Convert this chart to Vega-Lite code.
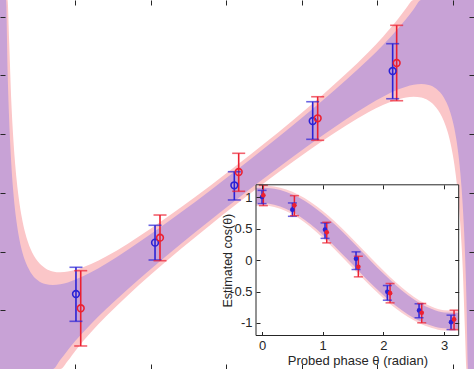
{
  "$schema": "https://vega.github.io/schema/vega-lite/v6.json",
  "width": 474,
  "height": 369,
  "autosize": "none",
  "padding": 0,
  "background": "white",
  "config": {
    "view": {"stroke": null},
    "axis": {
      "grid": false,
      "domain": false,
      "zindex": 1,
      "tickColor": "#262626",
      "tickWidth": 1,
      "labelFont": "Liberation Sans",
      "titleFont": "Liberation Sans",
      "labelColor": "#262626",
      "titleColor": "#262626",
      "titleFontWeight": "normal",
      "labelFontSize": 13,
      "titleFontSize": 13
    }
  },
  "datasets": {
    "band": [
      {"x": 0, "plo": -20, "phi": 20, "klo": -20, "khi": 20},
      {"x": 0.02, "plo": -24.98, "phi": 25.02, "klo": -32.98, "khi": 33.02},
      {"x": 0.04, "plo": -12.46, "phi": 12.54, "klo": -16.46, "khi": 16.54},
      {"x": 0.06, "plo": -8.27, "phi": 8.39, "klo": -10.94, "khi": 11.06},
      {"x": 0.08, "plo": -6.17, "phi": 6.33, "klo": -8.17, "khi": 8.33},
      {"x": 0.1, "plo": -4.9, "phi": 5.1, "klo": -6.5, "khi": 6.7},
      {"x": 0.12, "plo": -4.049, "phi": 4.289, "klo": -5.383, "khi": 5.623},
      {"x": 0.15, "plo": -3.186, "phi": 3.486, "klo": -4.254, "khi": 4.554},
      {"x": 0.18, "plo": -2.601, "phi": 2.961, "klo": -3.492, "khi": 3.852},
      {"x": 0.22, "plo": -2.057, "phi": 2.497, "klo": -2.786, "khi": 3.226},
      {"x": 0.26, "plo": -1.669, "phi": 2.189, "klo": -2.286, "khi": 2.806},
      {"x": 0.3, "plo": -1.373, "phi": 1.973, "klo": -1.908, "khi": 2.508},
      {"x": 0.35, "plo": -1.086, "phi": 1.786, "klo": -1.545, "khi": 2.245},
      {"x": 0.4, "plo": -0.858, "phi": 1.658, "klo": -1.261, "khi": 2.061},
      {"x": 0.5, "plo": -0.511, "phi": 1.511, "klo": -0.834, "khi": 1.834},
      {"x": 0.6, "plo": -0.246, "phi": 1.446, "klo": -0.517, "khi": 1.717},
      {"x": 0.7, "plo": -0.029, "phi": 1.429, "klo": -0.262, "khi": 1.662},
      {"x": 0.8, "plo": 0.158, "phi": 1.442, "klo": -0.047, "khi": 1.647},
      {"x": 0.9, "plo": 0.325, "phi": 1.475, "klo": 0.141, "khi": 1.659},
      {"x": 1.0, "plo": 0.479, "phi": 1.522, "klo": 0.312, "khi": 1.688},
      {"x": 1.2, "plo": 0.757, "phi": 1.643, "klo": 0.616, "khi": 1.784},
      {"x": 1.4, "plo": 1.012, "phi": 1.788, "klo": 0.888, "khi": 1.912},
      {"x": 1.7, "plo": 1.367, "phi": 2.033, "klo": 1.261, "khi": 2.139},
      {"x": 2.0, "plo": 1.703, "phi": 2.297, "klo": 1.608, "khi": 2.392},
      {"x": 2.4, "plo": 2.132, "phi": 2.668, "klo": 2.046, "khi": 2.754},
      {"x": 2.8, "plo": 2.546, "phi": 3.054, "klo": 2.465, "khi": 3.135},
      {"x": 3.1416, "plo": 2.892, "phi": 3.392, "klo": 2.812, "khi": 3.472},
      {"x": 3.4832, "plo": 3.23, "phi": 3.737, "klo": 3.148, "khi": 3.818},
      {"x": 3.8832, "plo": 3.615, "phi": 4.151, "klo": 3.529, "khi": 4.237},
      {"x": 4.2832, "plo": 3.986, "phi": 4.58, "klo": 3.891, "khi": 4.675},
      {"x": 4.5832, "plo": 4.25, "phi": 4.916, "klo": 4.144, "khi": 5.022},
      {"x": 4.8832, "plo": 4.495, "phi": 5.271, "klo": 4.371, "khi": 5.395},
      {"x": 5.0832, "plo": 4.64, "phi": 5.526, "klo": 4.499, "khi": 5.668},
      {"x": 5.2832, "plo": 4.762, "phi": 5.805, "klo": 4.595, "khi": 5.972},
      {"x": 5.3832, "plo": 4.808, "phi": 5.958, "klo": 4.625, "khi": 6.142},
      {"x": 5.4832, "plo": 4.841, "phi": 6.125, "klo": 4.636, "khi": 6.331},
      {"x": 5.5832, "plo": 4.854, "phi": 6.312, "klo": 4.621, "khi": 6.546},
      {"x": 5.6832, "plo": 4.837, "phi": 6.529, "klo": 4.567, "khi": 6.8},
      {"x": 5.7832, "plo": 4.773, "phi": 6.794, "klo": 4.449, "khi": 7.117},
      {"x": 5.8832, "plo": 4.625, "phi": 7.141, "klo": 4.222, "khi": 7.544},
      {"x": 5.9332, "plo": 4.497, "phi": 7.369, "klo": 4.038, "khi": 7.828},
      {"x": 5.9832, "plo": 4.31, "phi": 7.656, "klo": 3.775, "khi": 8.191},
      {"x": 6.0232, "plo": 4.094, "phi": 7.952, "klo": 3.477, "khi": 8.569},
      {"x": 6.0632, "plo": 3.786, "phi": 8.34, "klo": 3.057, "khi": 9.069},
      {"x": 6.1032, "plo": 3.322, "phi": 8.884, "klo": 2.431, "khi": 9.775},
      {"x": 6.1332, "plo": 2.797, "phi": 9.469, "klo": 1.729, "khi": 10.537},
      {"x": 6.1632, "plo": 1.994, "phi": 10.332, "klo": 0.66, "khi": 11.666},
      {"x": 6.1832, "plo": 1.18, "phi": 11.18, "klo": -0.417, "khi": 12.78},
      {"x": 6.2032, "plo": -0.047, "phi": 12.45, "klo": -2.05, "khi": 14.45},
      {"x": 6.2232, "plo": -2.05, "phi": 14.55, "klo": -4.66, "khi": 17.22},
      {"x": 6.2432, "plo": -6.18, "phi": 18.74, "klo": -10.18, "khi": 22.74},
      {"x": 6.2632, "plo": -18.7, "phi": 31.26, "klo": -26.7, "khi": 39.26},
      {"x": 6.2832, "plo": -20, "phi": 20, "klo": -20, "khi": 20}
    ],
    "mainpts": [
      {"s": "blue", "x": 1.007, "y": 1.277, "lo": 0.812, "hi": 1.732},
      {"s": "blue", "x": 2.055, "y": 2.151, "lo": 1.856, "hi": 2.447},
      {"s": "blue", "x": 3.106, "y": 3.128, "lo": 2.878, "hi": 3.359},
      {"s": "blue", "x": 4.145, "y": 4.223, "lo": 3.911, "hi": 4.551},
      {"s": "blue", "x": 5.205, "y": 5.074, "lo": 4.602, "hi": 5.539},
      {"s": "red", "x": 1.07, "y": 1.034, "lo": 0.392, "hi": 1.674},
      {"s": "red", "x": 2.121, "y": 2.236, "lo": 1.844, "hi": 2.622},
      {"s": "red", "x": 3.164, "y": 3.354, "lo": 3.026, "hi": 3.673},
      {"s": "red", "x": 4.211, "y": 4.269, "lo": 3.894, "hi": 4.636},
      {"s": "red", "x": 5.258, "y": 5.21, "lo": 4.568, "hi": 5.852}
    ],
    "insetband": [
      {"t": -0.1, "plo": 0.899, "phi": 1.151, "klo": 0.864, "khi": 1.186},
      {"t": 0, "plo": 0.905, "phi": 1.155, "klo": 0.87, "khi": 1.19},
      {"t": 0.2, "plo": 0.8825, "phi": 1.1377, "klo": 0.8467, "khi": 1.1735},
      {"t": 0.4, "plo": 0.8163, "phi": 1.0859, "klo": 0.7786, "khi": 1.1236},
      {"t": 0.6, "plo": 0.7105, "phi": 1.0001, "klo": 0.6699, "khi": 1.0407},
      {"t": 0.8, "plo": 0.5709, "phi": 0.8825, "klo": 0.5273, "khi": 0.9261},
      {"t": 1.0, "plo": 0.4044, "phi": 0.7362, "klo": 0.358, "khi": 0.7826},
      {"t": 1.2, "plo": 0.2186, "phi": 0.5662, "klo": 0.1699, "khi": 0.6149},
      {"t": 1.4, "plo": 0.0213, "phi": 0.3787, "klo": -0.0287, "khi": 0.4287},
      {"t": 1.6, "plo": -0.1792, "phi": 0.1808, "klo": -0.2296, "khi": 0.2312},
      {"t": 1.8, "plo": -0.3748, "phi": -0.0196, "klo": -0.4246, "khi": 0.0302},
      {"t": 2.0, "plo": -0.5579, "phi": -0.2143, "klo": -0.606, "khi": -0.1662},
      {"t": 2.2, "plo": -0.7216, "phi": -0.3954, "klo": -0.7673, "khi": -0.3497},
      {"t": 2.4, "plo": -0.86, "phi": -0.5548, "klo": -0.9027, "khi": -0.5121},
      {"t": 2.6, "plo": -0.9686, "phi": -0.6852, "klo": -1.0083, "khi": -0.6455},
      {"t": 2.8, "plo": -1.0445, "phi": -0.7799, "klo": -1.0816, "khi": -0.7428},
      {"t": 3.0, "plo": -1.0863, "phi": -0.8337, "klo": -1.1217, "khi": -0.7983},
      {"t": 3.2416, "plo": -1.0907, "phi": -0.8393, "klo": -1.1259, "khi": -0.8041}
    ],
    "insetpts": [
      {"s": "blue", "t": 0.0, "y": 1.006, "lo": 0.9, "hi": 1.111},
      {"s": "blue", "t": 0.5, "y": 0.804, "lo": 0.698, "hi": 0.911},
      {"s": "blue", "t": 1.038, "y": 0.486, "lo": 0.347, "hi": 0.593},
      {"s": "blue", "t": 1.549, "y": 0.021, "lo": -0.149, "hi": 0.132},
      {"s": "blue", "t": 2.065, "y": -0.504, "lo": -0.638, "hi": -0.404},
      {"s": "blue", "t": 2.588, "y": -0.801, "lo": -0.917, "hi": -0.695},
      {"s": "blue", "t": 3.115, "y": -0.987, "lo": -1.105, "hi": -0.876},
      {"s": "red", "t": 0.021, "y": 1.032, "lo": 0.868, "hi": 1.191},
      {"s": "red", "t": 0.533, "y": 0.873, "lo": 0.709, "hi": 1.027},
      {"s": "red", "t": 1.066, "y": 0.444, "lo": 0.275, "hi": 0.603},
      {"s": "red", "t": 1.587, "y": -0.107, "lo": -0.266, "hi": 0.062},
      {"s": "red", "t": 2.11, "y": -0.526, "lo": -0.68, "hi": -0.372},
      {"s": "red", "t": 2.632, "y": -0.838, "lo": -0.998, "hi": -0.69},
      {"s": "red", "t": 3.165, "y": -0.944, "lo": -1.105, "hi": -0.797}
    ],
    "frame": [{"x0": -0.1, "x1": 3.2416, "y0": -1.2, "y1": 1.2}],
    "dummy": [{"x": 1, "y": 1}]
  },
  "layer": [
    {
      "layer": [
        {
          "data": {"name": "band"},
          "mark": {"type": "area", "color": "#FBC6C8", "interpolate": "monotone", "opacity": 1},
          "encoding": {
            "x": {"field": "x", "type": "quantitative",
                  "scale": {"domain": [0, 6.2832], "nice": false, "zero": false},
                  "axis": {"orient": "bottom", "values": [1, 2, 3, 4, 5, 6], "labels": false, "tickSize": -5, "title": null, "zindex": 2}},
            "y": {"field": "klo", "type": "quantitative",
                  "scale": {"domain": [0, 6.2832], "nice": false, "zero": false, "clamp": true},
                  "axis": {"orient": "left", "values": [1, 2, 3, 4, 5, 6], "labels": false, "tickSize": -5, "title": null, "zindex": 2}},
            "y2": {"field": "khi"}
          }
        },
        {
          "data": {"name": "band"},
          "mark": {"type": "area", "color": "#C8A2D6", "interpolate": "monotone", "opacity": 1},
          "encoding": {
            "x": {"field": "x", "type": "quantitative"},
            "y": {"field": "plo", "type": "quantitative"},
            "y2": {"field": "phi"}
          }
        },
        {
          "data": {"name": "mainpts"},
          "mark": {"type": "rule", "strokeWidth": 1.6},
          "encoding": {
            "x": {"field": "x", "type": "quantitative"},
            "y": {"field": "lo", "type": "quantitative"},
            "y2": {"field": "hi"},
            "color": {"field": "s", "type": "nominal", "scale": {"domain": ["blue", "red"], "range": ["#2A22D6", "#EC2030"]}, "legend": null}
          }
        },
        {
          "data": {"name": "mainpts"},
          "mark": {"type": "tick", "orient": "horizontal", "size": 13, "thickness": 1.6},
          "encoding": {
            "x": {"field": "x", "type": "quantitative"},
            "y": {"field": "lo", "type": "quantitative"},
            "color": {"field": "s", "type": "nominal", "legend": null}
          }
        },
        {
          "data": {"name": "mainpts"},
          "mark": {"type": "tick", "orient": "horizontal", "size": 13, "thickness": 1.6},
          "encoding": {
            "x": {"field": "x", "type": "quantitative"},
            "y": {"field": "hi", "type": "quantitative"},
            "color": {"field": "s", "type": "nominal", "legend": null}
          }
        },
        {
          "data": {"name": "mainpts"},
          "mark": {"type": "point", "shape": "circle", "filled": false, "size": 45, "strokeWidth": 1.6, "opacity": 1},
          "encoding": {
            "x": {"field": "x", "type": "quantitative"},
            "y": {"field": "y", "type": "quantitative"},
            "color": {"field": "s", "type": "nominal", "legend": null}
          }
        }
      ]
    },
    {
      "data": {"name": "dummy"},
      "mark": {"type": "point", "opacity": 0},
      "encoding": {
        "x": {"field": "x", "type": "quantitative",
              "scale": {"domain": [0, 6.2832], "nice": false, "zero": false},
              "axis": {"orient": "top", "values": [1, 2, 3, 4, 5, 6], "labels": false, "tickSize": -5, "title": null, "zindex": 2}},
        "y": {"field": "y", "type": "quantitative",
              "scale": {"domain": [0, 6.2832], "nice": false, "zero": false},
              "axis": {"orient": "right", "values": [1, 2, 3, 4, 5, 6], "labels": false, "tickSize": -5, "title": null, "zindex": 2}}
      }
    },
    {
      "layer": [
        {
          "data": {"name": "frame"},
          "mark": {"type": "rect", "fill": "white", "stroke": null},
          "encoding": {
            "x": {"field": "x0", "type": "quantitative",
                  "scale": {"domain": [-0.1, 3.2416], "range": [256, 458.7], "nice": false, "zero": false},
                  "axis": {"orient": "bottom", "offset": -33.5, "values": [0, 1, 2, 3], "labelExpr": "'' + datum.value", "tickSize": -4, "labelPadding": 8, "title": "Probed phase θ (radian)", "titlePadding": 2, "zindex": 3}},
            "x2": {"field": "x1"},
            "y": {"field": "y0", "type": "quantitative",
                  "scale": {"domain": [-1.2, 1.2], "range": [335.5, 184.8], "nice": false, "zero": false},
                  "axis": {"orient": "left", "offset": -256, "values": [-1, -0.5, 0, 0.5, 1], "labelExpr": "'' + datum.value", "tickSize": -4, "labelPadding": 8, "title": "Estimated cos(θ)", "titleFontSize": 12.5, "titlePadding": -5, "zindex": 3}},
            "y2": {"field": "y1"}
          }
        },
        {
          "data": {"name": "insetband"},
          "mark": {"type": "area", "color": "#FBCFD3", "interpolate": "monotone", "opacity": 1},
          "encoding": {
            "x": {"field": "t", "type": "quantitative"},
            "y": {"field": "klo", "type": "quantitative"},
            "y2": {"field": "khi"}
          }
        },
        {
          "data": {"name": "insetband"},
          "mark": {"type": "area", "color": "#C8A2D6", "interpolate": "monotone", "opacity": 1},
          "encoding": {
            "x": {"field": "t", "type": "quantitative"},
            "y": {"field": "plo", "type": "quantitative"},
            "y2": {"field": "phi"}
          }
        },
        {
          "data": {"name": "insetpts"},
          "mark": {"type": "rule", "strokeWidth": 1.5},
          "encoding": {
            "x": {"field": "t", "type": "quantitative"},
            "y": {"field": "lo", "type": "quantitative"},
            "y2": {"field": "hi"},
            "color": {"field": "s", "type": "nominal", "legend": null}
          }
        },
        {
          "data": {"name": "insetpts"},
          "mark": {"type": "tick", "orient": "horizontal", "size": 9, "thickness": 1.5},
          "encoding": {
            "x": {"field": "t", "type": "quantitative"},
            "y": {"field": "lo", "type": "quantitative"},
            "color": {"field": "s", "type": "nominal", "legend": null}
          }
        },
        {
          "data": {"name": "insetpts"},
          "mark": {"type": "tick", "orient": "horizontal", "size": 9, "thickness": 1.5},
          "encoding": {
            "x": {"field": "t", "type": "quantitative"},
            "y": {"field": "hi", "type": "quantitative"},
            "color": {"field": "s", "type": "nominal", "legend": null}
          }
        },
        {
          "data": {"name": "insetpts"},
          "mark": {"type": "point", "shape": "circle", "filled": true, "size": 22, "opacity": 1},
          "encoding": {
            "x": {"field": "t", "type": "quantitative"},
            "y": {"field": "y", "type": "quantitative"},
            "color": {"field": "s", "type": "nominal", "legend": null}
          }
        },
        {
          "data": {"name": "frame"},
          "mark": {"type": "rect", "fill": null, "stroke": "#262626", "strokeWidth": 1},
          "encoding": {
            "x": {"field": "x0", "type": "quantitative"},
            "x2": {"field": "x1"},
            "y": {"field": "y0", "type": "quantitative"},
            "y2": {"field": "y1"}
          }
        }
      ]
    },
    {
      "data": {"name": "dummy"},
      "mark": {"type": "point", "opacity": 0},
      "encoding": {
        "x": {"field": "x", "type": "quantitative",
              "scale": {"domain": [-0.1, 3.2416], "range": [256, 458.7], "nice": false, "zero": false},
              "axis": {"orient": "top", "offset": -184.8, "values": [0, 1, 2, 3], "labels": false, "tickSize": -4, "title": null, "zindex": 3}},
        "y": {"field": "y", "type": "quantitative",
              "scale": {"domain": [-1.2, 1.2], "range": [335.5, 184.8], "nice": false, "zero": false},
              "axis": {"orient": "right", "offset": -15.3, "values": [-1, -0.5, 0, 0.5, 1], "labels": false, "tickSize": -4, "title": null, "zindex": 3}}
      }
    }
  ],
  "resolve": {
    "scale": {"x": "independent", "y": "independent"},
    "axis": {"x": "independent", "y": "independent"}
  }
}
